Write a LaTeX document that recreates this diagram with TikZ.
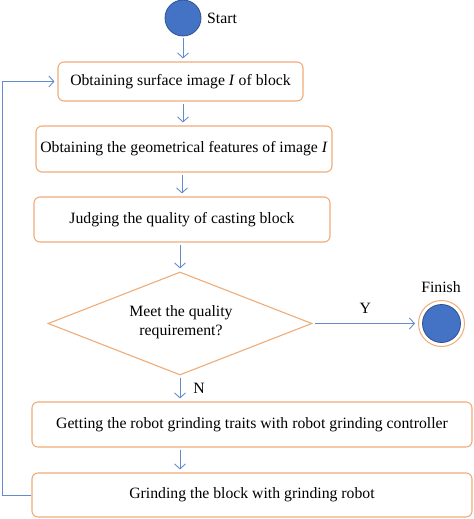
\documentclass[tikz,border=0pt]{standalone}
\usepackage{fontspec}
\setmainfont{Liberation Serif}
\usetikzlibrary{shapes.geometric,arrows.meta}
\definecolor{boxor}{RGB}{240,172,120}
\definecolor{arrbl}{RGB}{100,140,205}
\definecolor{circbl}{RGB}{68,114,196}
\definecolor{circdk}{RGB}{47,82,143}
\tikzset{
  procbox/.style={draw=boxor, line width=1.1bp, rounded corners=6bp, inner sep=0pt, align=center, font=\fontsize{15.8}{19}\selectfont},
  decbox/.style={diamond, draw=boxor, line width=1.1bp, inner sep=0pt},
  flowarr/.style={draw=arrbl, line width=0.9bp, -{Straight Barb[length=5bp,width=11bp,line width=0.9bp]}, shorten >=3bp, shorten <=2bp},
  lbl/.style={font=\fontsize{15.8}{19}\selectfont, inner sep=0pt, align=center},
  blob/.style={circle, fill=circbl, draw=circdk, line width=0.8bp, inner sep=0pt}
}
\begin{document}
\begin{tikzpicture}[x=1bp,y=-1bp]
\useasboundingbox (0,0) rectangle (474,519);
\node[blob, minimum size=36bp] (start) at (183,18) {};
\node[lbl, anchor=west] (startlbl) at (207,18) {Start};
\node[procbox, minimum width=245bp, minimum height=39bp] (box1) at (180.5,81.5) {Obtaining surface image \textit{I} of block};
\node[procbox, minimum width=296bp, minimum height=46bp] (box2) at (184,149) {Obtaining the geometrical features of image \textit{I}};
\node[procbox, minimum width=296bp, minimum height=45bp] (box3) at (182,219.5) {Judging the quality of casting block};
\node[decbox, minimum width=264bp, minimum height=103bp] (diam) at (180,323.5) {};
\node[lbl] (diamtext) at (181,322) {Meet the quality\\requirement?};
\node[circle, draw=boxor, line width=1bp, fill=white, minimum size=46bp, inner sep=0pt] (finish) at (441.5,323.5) {};
\node[blob, minimum size=38bp] (finishin) at (finish.center) {};
\node[lbl] (finishlbl) at (441,287) {Finish};
\node[procbox, minimum width=440bp, minimum height=45bp] (box4) at (252,424.5) {Getting the robot grinding traits with robot grinding controller};
\node[procbox, minimum width=440bp, minimum height=44bp] (box5) at (252,495) {Grinding the block with grinding robot};
\draw[flowarr] (start.south) -- (start |- box1.north);
\draw[flowarr] (start |- box1.south) -- (start |- box2.north);
\draw[flowarr] ([xshift=-1bp]start |- box2.south) -- ([xshift=-1bp]start |- box3.north);
\draw[flowarr] (diam |- box3.south) -- (diam.north);
\draw[flowarr] (diam.east) -- node[lbl, above=10bp] (ylbl) {Y} (finish.west);
\draw[flowarr] (diam.south) -- node[lbl, right=13bp] (nlbl) {N} (diam |- box4.north);
\draw[flowarr] (diam |- box4.south) -- (diam |- box5.north);
\draw[flowarr, shorten <=0bp, rounded corners=0pt] (box5.west) -- ++(-29,0) |- (box1.west);
\end{tikzpicture}
\end{document}
